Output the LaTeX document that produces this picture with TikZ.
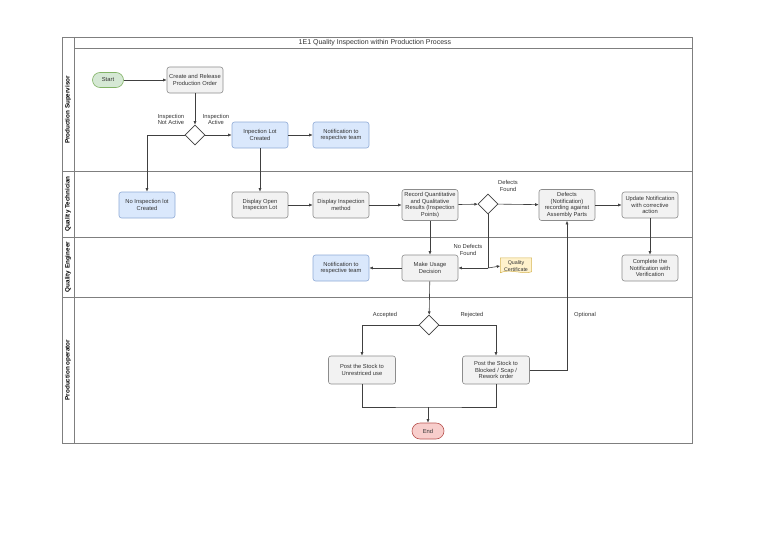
\documentclass[tikz,border=0pt]{standalone}
\usepackage{fontspec}
\setmainfont{Liberation Sans}
\usetikzlibrary{arrows.meta,shapes.geometric,backgrounds}
\definecolor{frameC}{HTML}{7F7F7F}
\definecolor{grayD}{HTML}{8C8C8C}
\definecolor{grayF}{HTML}{F2F2F2}
\definecolor{blueD}{HTML}{8FAAD6}
\definecolor{blueF}{HTML}{DAE8FC}
\definecolor{greenD}{HTML}{82B366}
\definecolor{greenF}{HTML}{D5E8D4}
\definecolor{redD}{HTML}{B85450}
\definecolor{redF}{HTML}{F8CECC}
\definecolor{yelD}{HTML}{D6B656}
\definecolor{yelF}{HTML}{FFF2CC}
\definecolor{lineC}{HTML}{404040}
\definecolor{txtC}{HTML}{333333}
\begin{document}
\begin{tikzpicture}[x=1pt,y=-1pt,
  font=\fontsize{5.8}{6.8}\selectfont, text=txtC,
  frame/.style={draw=frameC, line width=0.9pt},
  proc/.style={draw=grayD, fill=grayF, rounded corners=2.5pt, minimum width=56pt, minimum height=26pt, align=center, inner sep=0.5pt, line width=0.6pt},
  bproc/.style={proc, draw=blueD, fill=blueF},
  dec/.style={diamond, draw=lineC, fill=white, minimum width=20pt, minimum height=20pt, inner sep=0pt, line width=0.6pt},
  term/.style={rounded corners=7.5pt, minimum width=31pt, minimum height=15pt, inner sep=1pt, line width=0.6pt},
  conn/.style={draw=lineC, line width=0.6pt},
  arr/.style={conn, -{Latex[length=3.5pt,width=3pt]}},
  lane/.style={rotate=90, font=\bfseries\fontsize{6.3}{7.5}\selectfont, text=black},
  lbl/.style={align=center, inner sep=0pt}]
\useasboundingbox (0,0) rectangle (768,543);
% frame
\draw[frame] (62,37) rectangle (692,443);
\draw[frame] (74,37) -- (74,443);
\draw[frame] (74,48) -- (692,48);
\draw[frame] (62,171) -- (692,171);
\draw[frame] (62,237) -- (692,237);
\draw[frame] (62,297) -- (692,297);
\node[font=\fontsize{7}{8}\selectfont] (title) at (375,43) {1E1 Quality Inspection within Production Process};
\node[lane] (l1) at (68,110) {Production Supervisor};
\node[lane] (l2) at (68,204) {Quality Technician};
\node[lane] (l3) at (68,267) {Quality Engineer};
\node[lane] (l4) at (68,370) {Production operator};
% nodes
\node[term, draw=greenD, fill=greenF] (start) at (108,80) {Start};
\node[proc] (create) at (195,80) {Create and Release\\Production Order};
\node[dec] (d1) at (195,135) {};
\node[lbl] (la1) at (171,119.5) {Inspection\\Not Active};
\node[lbl] (la2) at (216,119.5) {Inspection\\Active};
\node[bproc] (lot) at (260,135) {Inpection Lot\\Created};
\node[bproc] (notif1) at (341,135) {Notification to\\respective team};
\node[bproc] (noinsp) at (147,205) {No Inspection lot\\Created};
\node[proc] (dispopen) at (260,205) {Display Open\\Inspecion Lot};
\node[proc] (dispmeth) at (341,205) {Display Inspection\\method};
\node[proc, minimum height=31pt] (record) at (430,205) {Record Quantitative\\and Qualitative\\Results (Inspection\\Points)};
\node[dec] (d2) at (488,204) {};
\node[lbl] (la3) at (508,186) {Defects\\Found};
\node[proc, minimum height=31pt] (defects) at (567,205) {Defects\\(Notification)\\recording against\\Assembly Parts};
\node[proc] (update) at (650,205) {Update Notification\\with corrective\\action};
\node[proc] (complete) at (650,268) {Complete the\\Notification with\\Verification};
\node[proc] (usage) at (430,268) {Make Usage\\Decision};
\node[lbl] (la4) at (468,250) {No Defects\\Found};
\node[bproc] (notif2) at (341,268) {Notification to\\respective team};
\node[lbl, minimum width=31pt, minimum height=16pt, font=\fontsize{5.3}{6.3}\selectfont] (qc) at (516,266) {Quality\\Certificate};
\begin{scope}[on background layer]
\draw[draw=yelD, fill=yelF, line width=0.5pt] (qc.north west) -- (qc.north east) -- ([yshift=2.5pt]qc.south east)
  .. controls ([xshift=-8pt,yshift=-1pt]qc.south east) and ([xshift=10pt,yshift=6pt]qc.south west) .. ([yshift=1.5pt]qc.south west) -- cycle;
\end{scope}
\node[dec] (d3) at (429,325) {};
\node[lbl] (la5) at (385,315) {Accepted};
\node[lbl] (la6) at (472,315) {Rejected};
\node[lbl] (la7) at (585,315) {Optional};
\node[proc, minimum width=67pt, minimum height=28pt] (unres) at (362,370) {Post the Stock to\\Unrestriced use};
\node[proc, minimum width=67pt, minimum height=28pt] (block) at (496,370) {Post the Stock to\\Blocked / Scap /\\Rework order};
\node[term, draw=redD, fill=redF, minimum width=32pt, minimum height=16pt, rounded corners=8pt] (end) at (428,431) {End};
\coordinate (jn) at (488,268);
\coordinate (jb) at (428,407);
% connectors
\draw[arr] (start) -- (create);
\draw[arr] (create) -- (d1);
\draw[arr] (d1) -- (lot);
\draw[arr] (lot) -- (notif1);
\draw[arr] (d1.west) -| (noinsp.north);
\draw[arr] (lot) -- (dispopen);
\draw[arr] (dispopen) -- (dispmeth);
\draw[arr] (dispmeth) -- (record);
\draw[arr] (record) -- (d2);
\draw[arr] (d2) -- (defects);
\draw[arr] (defects) -- (update);
\draw[arr] (update) -- (complete);
\draw[arr] (record) -- (usage);
\draw[conn] (d2.south) -- (jn);
\draw[arr] (jn) -- (usage.east);
\draw[arr] (jn) -- (qc.west);
\draw[arr] (usage) -- (notif2);
\draw[arr] (usage) -- (d3);
\draw[arr] (d3.west) -| (unres.north);
\draw[arr] (d3.east) -| (block.north);
\draw[arr] (block.east) -| (defects.south);
\draw[conn] (unres.south) |- (jb) -| (block.south);
\draw[arr] (jb) -- (end);
\end{tikzpicture}
\end{document}
